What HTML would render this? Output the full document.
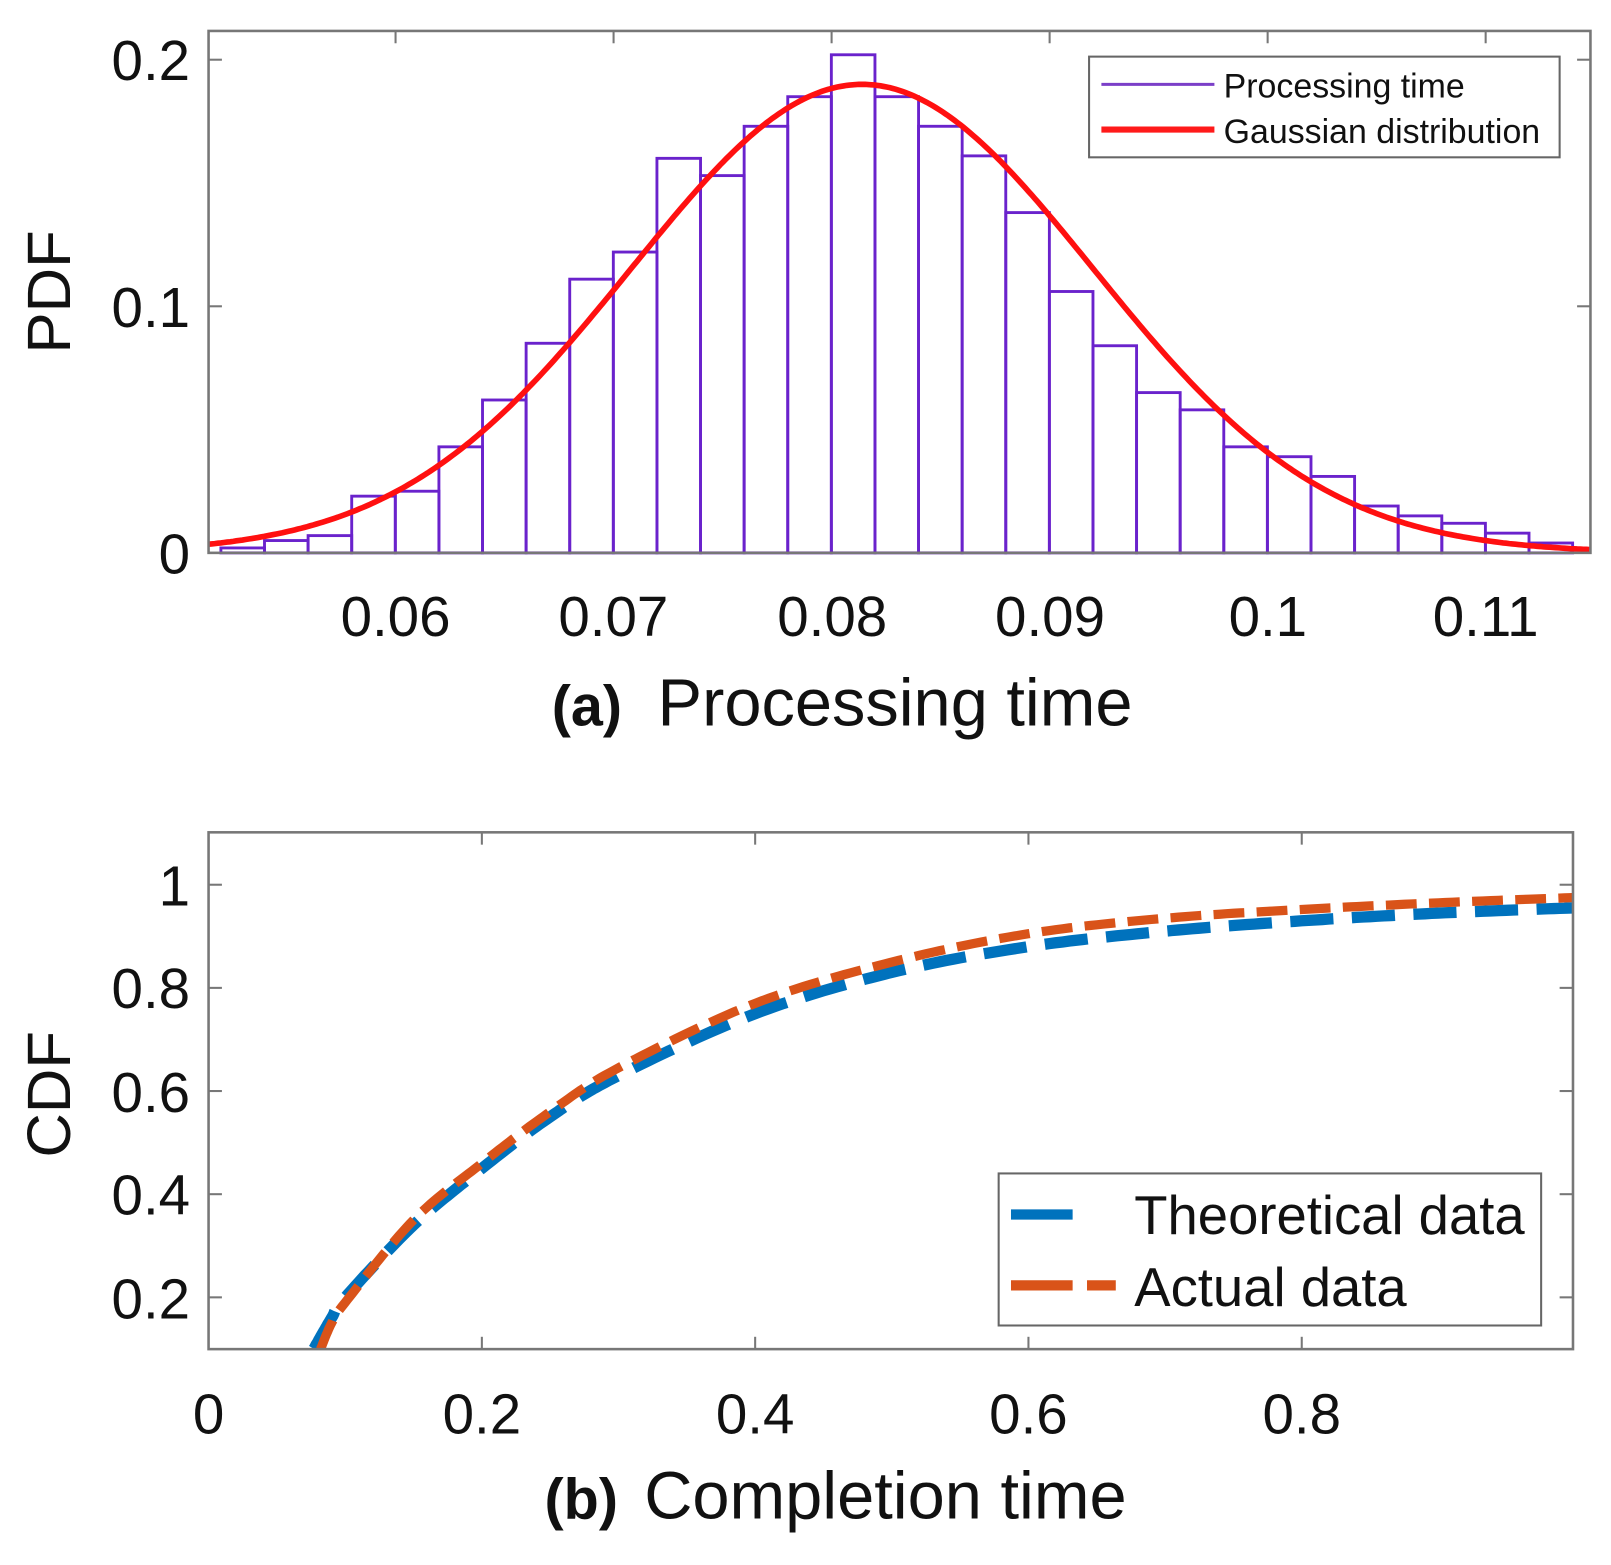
<!DOCTYPE html>
<html><head><meta charset="utf-8"><style>
html,body{margin:0;padding:0;background:#fff}
svg{display:block}
text{font-family:"Liberation Sans",sans-serif;fill:#111}
</style></head><body>
<svg id="s" width="1611" height="1565" viewBox="0 0 1568 1523" xmlns="http://www.w3.org/2000/svg">
<rect width="1568" height="1523" fill="#fff"/>
<g id="gtop"></g>
<g id="gbot"></g>
<rect x="203" y="30" width="1345" height="508" fill="none" stroke="#777" stroke-width="2.5"/>
<g font-size="55" text-anchor="end">
<text x="185" y="558">0</text><text x="185" y="318">0.1</text><text x="185" y="78">0.2</text>
</g>
<g font-size="55" text-anchor="middle">
<text x="385" y="619">0.06</text><text x="597" y="619">0.07</text><text x="810" y="619">0.08</text>
<text x="1022" y="619">0.09</text><text x="1234" y="619">0.1</text><text x="1446" y="619">0.11</text>
</g>
<text transform="translate(68,284) rotate(-90)" font-size="60" text-anchor="middle">PDF</text>
<text x="537" y="706" font-size="56" font-weight="bold">(a)</text>
<text x="640" y="706" font-size="65">Processing time</text>
<rect x="1060" y="55" width="458" height="98" fill="#fff" stroke="#666" stroke-width="2"/>
<line x1="1072" y1="82" x2="1182" y2="82" stroke="#7b3fc8" stroke-width="3"/>
<line x1="1072" y1="126" x2="1182" y2="126" stroke="#ff1a1a" stroke-width="6"/>
<text x="1191" y="95" font-size="33">Processing time</text>
<text x="1191" y="139" font-size="33">Gaussian distribution</text>
<rect x="203" y="810" width="1328" height="503" fill="none" stroke="#777" stroke-width="2.5"/>
<g font-size="55" text-anchor="end">
<text x="185" y="881">1</text><text x="185" y="981">0.8</text><text x="185" y="1082">0.6</text>
<text x="185" y="1182">0.4</text><text x="185" y="1283">0.2</text>
</g>
<g font-size="55" text-anchor="middle">
<text x="203" y="1395">0</text><text x="469" y="1395">0.2</text><text x="735" y="1395">0.4</text>
<text x="1001" y="1395">0.6</text><text x="1267" y="1395">0.8</text>
</g>
<text transform="translate(68,1065) rotate(-90)" font-size="60" text-anchor="middle">CDF</text>
<text x="530" y="1478" font-size="56" font-weight="bold">(b)</text>
<text x="627" y="1478" font-size="65">Completion time</text>
<rect x="972" y="1142" width="528" height="148" fill="#fff" stroke="#666" stroke-width="2"/>
<line x1="984" y1="1182" x2="1044" y2="1182" stroke="#0072bd" stroke-width="10"/>
<line x1="984" y1="1251" x2="1086" y2="1251" stroke="#d95319" stroke-width="10" stroke-dasharray="60,14"/>
<text x="1104" y="1201" font-size="53">Theoretical data</text>
<text x="1104" y="1271" font-size="53">Actual data</text>
</svg>
<script>
var NS="http://www.w3.org/2000/svg";
function el(p,n,a){var e=document.createElementNS(NS,n);for(var k in a)e.setAttribute(k,a[k]);p.appendChild(e);return e;}
var gT=document.getElementById('gtop'),gB=document.getElementById('gbot');
function X1(v){return 385+(v-0.06)*21220;} function Y1(v){return 538-v*2400;}
[0.06,0.07,0.08,0.09,0.1,0.11].forEach(function(v){var x=X1(v);
el(gT,'line',{x1:x,y1:538,x2:x,y2:526,stroke:'#777','stroke-width':2});el(gT,'line',{x1:x,y1:30,x2:x,y2:42,stroke:'#777','stroke-width':2});});
[0,0.1,0.2].forEach(function(v){var y=Y1(v);
el(gT,'line',{x1:203,y1:y,x2:216,y2:y,stroke:'#777','stroke-width':2});el(gT,'line',{x1:1548,y1:y,x2:1535,y2:y,stroke:'#777','stroke-width':2});});
var h=[0.002,0.005,0.007,0.023,0.025,0.043,0.062,0.085,0.111,0.122,0.16,0.153,0.173,0.185,0.202,0.185,0.173,0.161,0.138,0.106,0.084,0.065,0.058,0.043,0.039,0.031,0.019,0.015,0.012,0.008,0.004];
var w=42.44;
h.forEach(function(v,i){var x=215+i*w;el(gT,'rect',{x:x,y:Y1(v),width:w,height:538-Y1(v),fill:'none',stroke:'#6a22cc','stroke-width':2.8});});
var d='';for(var x=203;x<=1548;x+=3){var v=(x-385)/21220+0.06;var g=0.19*Math.exp(-Math.pow(v-0.0814,2)/(2*0.0106*0.0106));d+=(d?'L':'M')+x+','+Y1(g).toFixed(1);}
el(gT,'path',{d:d,fill:'none',stroke:'#ff1010','stroke-width':5.5});
function X2(v){return 203+v*1330;} function Y2(v){return 1363-v*502;}
[0.2,0.4,0.6,0.8].forEach(function(v){var x=X2(v);
el(gB,'line',{x1:x,y1:1313,x2:x,y2:1301,stroke:'#777','stroke-width':2});el(gB,'line',{x1:x,y1:810,x2:x,y2:822,stroke:'#777','stroke-width':2});});
[0.2,0.4,0.6,0.8,1].forEach(function(v){var y=Y2(v);
el(gB,'line',{x1:203,y1:y,x2:216,y2:y,stroke:'#777','stroke-width':2});el(gB,'line',{x1:1531,y1:y,x2:1518,y2:y,stroke:'#777','stroke-width':2});});
function interp(pts){var s='';var n=pts.length;
for(var i=0;i<n-1;i++){var p0=pts[Math.max(0,i-1)],p1=pts[i],p2=pts[i+1],p3=pts[Math.min(n-1,i+2)];
for(var t=0;t<1;t+=0.05){var t2=t*t,t3=t2*t;
var x=0.5*((2*p1[0])+(-p0[0]+p2[0])*t+(2*p0[0]-5*p1[0]+4*p2[0]-p3[0])*t2+(-p0[0]+3*p1[0]-3*p2[0]+p3[0])*t3);
var y=0.5*((2*p1[1])+(-p0[1]+p2[1])*t+(2*p0[1]-5*p1[1]+4*p2[1]-p3[1])*t2+(-p0[1]+3*p1[1]-3*p2[1]+p3[1])*t3);
s+=(s?'L':'M')+X2(x).toFixed(1)+','+Y2(y).toFixed(1);}}
var l=pts[n-1];s+='L'+X2(l[0])+','+Y2(l[1]);return s;}
var th=[[0.077,0.1],[0.09,0.16],[0.1,0.2],[0.15,0.34],[0.2,0.45],[0.25,0.55],[0.3,0.63],[0.4,0.75],[0.5,0.83],[0.6,0.88],[0.7,0.91],[0.8,0.93],[0.9,0.945],[0.998,0.955]];
var ac=[[0.082,0.1],[0.09,0.15],[0.1,0.19],[0.15,0.35],[0.2,0.46],[0.25,0.56],[0.3,0.645],[0.4,0.77],[0.5,0.85],[0.6,0.905],[0.7,0.935],[0.8,0.952],[0.9,0.965],[0.998,0.975]];
var c=el(gB,'clipPath',{id:'cb'});el(c,'rect',{x:203,y:810,width:1328,height:503});
el(gB,'path',{d:interp(th),fill:'none',stroke:'#0072bd','stroke-width':11,'stroke-dasharray':'42,18','clip-path':'url(#cb)'});
el(gB,'path',{d:interp(ac),fill:'none',stroke:'#d95319','stroke-width':9,'stroke-dasharray':'30,12','clip-path':'url(#cb)'});
</script>
</body></html>
